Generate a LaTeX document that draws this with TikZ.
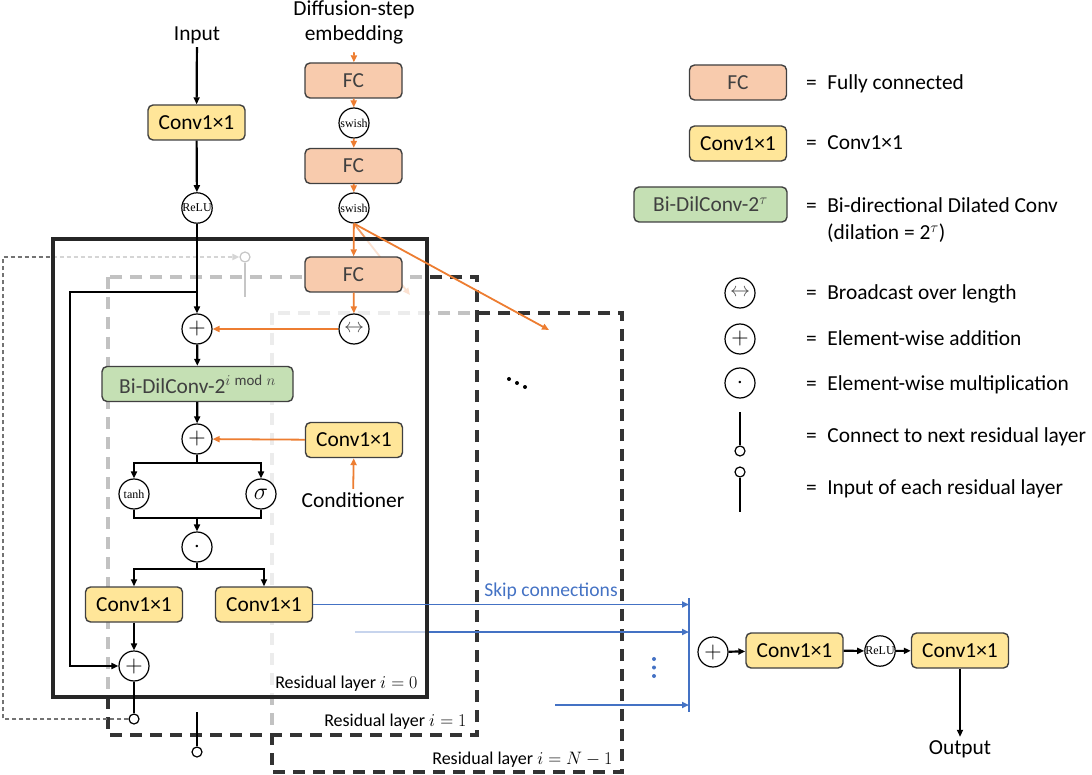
\RequirePackage{fix-cm}
\documentclass[tikz,border=0pt]{standalone}
\usepackage{fontspec}
\setmainfont{Carlito}
\newfontfamily\opfont{Liberation Serif}
\usepackage{tikz}
\usetikzlibrary{
	arrows.meta,
	positioning
}

\definecolor{fcpeach}{HTML}{F8CBAD}
\definecolor{convyel}{HTML}{FFE699}
\definecolor{dilgreen}{HTML}{C5E0B4}
\definecolor{embor}{HTML}{ED7D31}
\definecolor{skipblue}{HTML}{4472C4}
\definecolor{boxline}{HTML}{404040}

\tikzset{
	blk/.style={rounded corners=5pt, draw=boxline, line width=1.4pt, minimum width=97pt, minimum height=35pt, inner sep=0pt},
	fcbox/.style={blk, fill=fcpeach, text=black!75},
	convbox/.style={blk, fill=convyel},
	dilbox/.style={blk, fill=dilgreen, text=black!75, minimum width=191pt},
	op/.style={circle, draw, line width=1.2pt, fill=white, minimum size=30pt, inner sep=0pt},
	fn/.style={op, font=\opfont\fontsize{12}{12}\selectfont},
	sym/.style={op, font=\fontsize{24}{24}\selectfont},
	bc/.style={op, text=black!70, font=\fontsize{20}{20}\selectfont},
	port/.style={circle, draw, line width=1.2pt, fill=white, minimum size=10pt, inner sep=0pt},
	wire/.style={line width=2.2pt},
	arr/.style={wire, -{Triangle[length=7pt,width=6pt]}},
	oarr/.style={arr, draw=embor, line width=1.8pt},
	barr/.style={arr, draw=skipblue, line width=1.8pt},
	layer/.style={draw=black!80, line width=3.2pt, dash pattern=on 12pt off 8pt},
	veil/.style={fill=white, fill opacity=0.7},
	lbl/.style={anchor=east, font=\fontsize{18}{21}\selectfont},
	legtxt/.style={anchor=base west, inner sep=0pt}
}

\begin{document}
\begin{tikzpicture}[x=1pt,y=-1pt,font=\fontsize{21.4}{25}\selectfont]
	\useasboundingbox (0,0) rectangle (1092,775);

	% input and diffusion-step embedding
	\node (input) at (197,35) {Input};
	\node [convbox] (convin) at (196.5,122.5) {Conv1×1};
	\node [fn] (relu) at (197,208) {ReLU};
	\node [align=center] (diff) at (354,22) {Diffusion-step\\embedding};
	\node [fcbox] (fc1) at (353.5,80.5) {FC};
	\node [fn] (sw1) at (354,123) {swish};
	\node [fcbox] (fc2) at (353.5,166) {FC};
	\node [fn] (sw2) at (354,208) {swish};

	% residual layer N-1
	\draw [layer] (272,313) rectangle (622,772);
	\node [lbl] (labN) at (616,760) {Residual layer $i=N-1$};
	\coordinate (skipN) at (555,705);
	\coordinate (bartop) at (689,598);
	\coordinate (barbot) at (689,712);
	\draw [barr] (skipN) -- (skipN -| bartop);
	\foreach \k in {0,1,2}
		\fill (509+8*\k,379+4*\k) circle (2pt);

	% residual layer 1
	\fill [veil] (108,277) rectangle (477,735);
	\draw [layer] (108,277) rectangle (477,735);
	\node [lbl] (lab1) at (470,722) {Residual layer $i=1$};
	\node [port, draw=black!75] (in1) at (245,257) {};
	\coordinate (in1b) at (245,297);
	\draw [wire, black!75] (in1) -- (in1b);
	\coordinate (out1t) at (197,712);
	\node [port] (out1) at (197,752) {};
	\draw [wire] (out1t) -- (out1);
	\coordinate (skip1) at (355,632);
	\draw [barr] (skip1) -- (skip1 -| bartop);
	\coordinate (emb1) at (410,295);
	\draw [oarr, draw=embor!75] (sw2.south) -- (emb1);
	\node [port] (out0) at (134,719) {};
	\draw [arr, black!55, line width=1.7pt, dash pattern=on 4pt off 3pt] (out0) -- (3,719) -- (3,257) -- (in1);

	% residual layer 0
	\draw [veil, draw=black!85, line width=3.6pt] (53,239) rectangle (427,697);
	\node [lbl] (lab0) at (421,684) {Residual layer $i=0$};
	\node [fcbox] (fc3) at (353.5,274.5) {FC};
	\node [bc] (bcast) at (354,329) {$\leftrightarrow$};
	\node [sym] (add1) at (197,329) {$+$};
	\node [dilbox] (dil) at (197.5,384) {Bi-DilConv-2$^{i \bmod n}$};
	\node [sym] (add2) at (197,439) {$+$};
	\node [convbox] (convc) at (354,440) {Conv1×1};
	\node (cond) at (353,500) {Conditioner};
	\node [fn] (tanh) at (134,494) {tanh};
	\node [sym] (sig) at (261,494) {$\sigma$};
	\node [sym] (mul) at (197,547) {$\cdot$};
	\node [convbox] (convres) at (134,604.5) {Conv1×1};
	\node [convbox] (convskip) at (264,604.5) {Conv1×1};
	\node [sym] (add3) at (134,666) {$+$};
	\coordinate (resbr) at (197,292);
	\coordinate (merge) at (197,518);

	\draw [arr] (input) -- (convin);
	\draw [arr] (convin) -- (relu);
	\draw [arr] (relu) -- (add1);
	\draw [arr] (resbr) -- (70,292) |- (add3);
	\draw [arr] (add1) -- (dil);
	\draw [arr] (dil) -- (add2);
	\draw [arr] (add2) -- ++(0,24) -| (tanh);
	\draw [arr] (add2) -- ++(0,24) -| (sig);
	\draw [wire] (tanh) -- ++(0,24) -| (sig);
	\draw [arr] (merge) -- (mul);
	\draw [arr] (mul) -- ++(0,22) -| (convres);
	\draw [arr] (mul) -- ++(0,22) -| (convskip);
	\draw [arr] (convres) -- (add3);
	\draw [wire] (add3) -- (out0);

	\draw [oarr] ([yshift=-5pt]diff.south) -- (fc1);
	\draw [oarr] (fc1) -- (sw1);
	\draw [oarr] (sw1) -- (fc2);
	\draw [oarr] (fc2) -- (sw2);
	\draw [oarr] (sw2) -- (fc3);
	\draw [oarr] (fc3) -- (bcast);
	\draw [oarr] (bcast) -- (add1);
	\draw [oarr] (convc) -- (add2);
	\draw [oarr] (cond) -- (convc);

	% skip connections
	\draw [barr] (convskip) -- (convskip -| bartop);
	\node [text=skipblue, font=\fontsize{19.6}{22}\selectfont] (skiptxt) at (551,591) {Skip connections};
	\draw [skipblue, line width=2.2pt] (bartop) -- (barbot);
	\foreach \y in {659,667.5,676}
		\fill [skipblue] (654,\y) circle (2pt);

	% embedding of layer N-1
	\coordinate (embN) at (549,330);
	\draw [oarr] (sw2.south) -- (embN);

	% output
	\node [sym] (addo) at (713,652) {$+$};
	\node [convbox] (convo1) at (794.5,650.5) {Conv1×1};
	\node [fn] (reluo) at (880,651) {ReLU};
	\node [convbox] (convo2) at (960,650.5) {Conv1×1};
	\node (output) at (960,749) {Output};
	\draw [arr] (addo) -- (convo1);
	\draw [arr] (convo1) -- (reluo);
	\draw [arr] (reluo) -- (convo2);
	\draw [arr] (convo2) -- (output);

	% legend
	\node [fcbox] (lgfc) at (738,82.5) {FC};
	\node [convbox] (lgconv) at (738,143.5) {Conv1×1};
	\node [dilbox, minimum width=153pt] (lgdil) at (710.5,204.5) {Bi-DilConv-2$^{\tau}$};
	\node [bc] (lgbc) at (740,293) {$\leftrightarrow$};
	\node [sym] (lgadd) at (740,339) {$+$};
	\node [sym] (lgmul) at (740,383) {$\cdot$};
	\coordinate (lgnextt) at (740,412);
	\node [port] (lgnext) at (740,451) {};
	\draw [wire] (lgnextt) -- (lgnext);
	\node [port] (lgin) at (740,472) {};
	\coordinate (lginb) at (740,512);
	\draw [wire] (lgin) -- (lginb);
	\foreach \y/\t [count=\n] in {90/Fully connected, 150/Conv1×1, 213/Bi-directional Dilated Conv, 300/Broadcast over length, 346/Element-wise addition, 390/Element-wise multiplication, 442/Connect to next residual layer, 494/Input of each residual layer}
		\node [legtxt] (lgt\n) at (806,\y) {=\hspace{10.5pt}\t};
	\node [legtxt] (lgdila) at (827,240) {(dilation = 2$^{\tau}$)};
\end{tikzpicture}
\end{document}
